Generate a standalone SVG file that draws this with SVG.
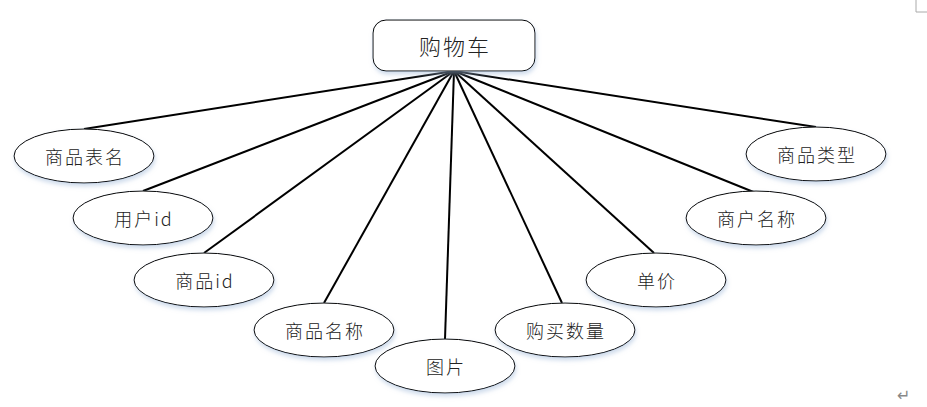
<svg xmlns="http://www.w3.org/2000/svg" width="927" height="407" viewBox="0 0 927 407">
<defs>
<filter id="sh" x="-20%" y="-20%" width="140%" height="150%"><feDropShadow dx="1" dy="3" stdDeviation="2" flood-color="#9fb8d8" flood-opacity="0.5"/></filter>
</defs>
<style>
.e{fill:#fff;stroke:#000;stroke-width:1;filter:url(#sh)}
.t{font-family:"Noto Sans CJK SC","Liberation Serif",serif;font-size:18px;font-weight:300;fill:#222;text-anchor:middle;dominant-baseline:central;letter-spacing:2px}
.l{stroke:#000;stroke-width:2;fill:none}
</style>
<rect width="927" height="407" fill="#fff"/>
<g id="connectors">
<line class="l" x1="454" y1="71" x2="84" y2="129"/>
<line class="l" x1="454" y1="71" x2="143" y2="191"/>
<line class="l" x1="454" y1="71" x2="204" y2="253"/>
<line class="l" x1="454" y1="71" x2="324" y2="303"/>
<line class="l" x1="454" y1="71" x2="445" y2="339"/>
<line class="l" x1="454" y1="71" x2="562" y2="303"/>
<line class="l" x1="454" y1="71" x2="654" y2="253"/>
<line class="l" x1="454" y1="71" x2="756" y2="193"/>
<line class="l" x1="454" y1="71" x2="816" y2="127"/>
</g>
<g id="cart"><rect x="373" y="20" width="162" height="51" rx="13" class="e"/><text class="t" x="455" y="45" style="font-size:22px">购物车</text></g>
<g id="n1"><ellipse class="e" cx="84" cy="156" rx="70" ry="27"/><text class="t" x="85" y="156">商品表名</text></g>
<g id="n2"><ellipse class="e" cx="143" cy="218" rx="70" ry="27"/><text class="t" x="144" y="218">用户id</text></g>
<g id="n3"><ellipse class="e" cx="204" cy="280" rx="70" ry="27"/><text class="t" x="205" y="280">商品id</text></g>
<g id="n4"><ellipse class="e" cx="324" cy="330" rx="70" ry="27"/><text class="t" x="325" y="330">商品名称</text></g>
<g id="n5"><ellipse class="e" cx="445" cy="366" rx="70" ry="27"/><text class="t" x="446" y="366">图片</text></g>
<g id="n6"><ellipse class="e" cx="565" cy="330" rx="70" ry="27"/><text class="t" x="566" y="330">购买数量</text></g>
<g id="n7"><ellipse class="e" cx="656" cy="280" rx="70" ry="27"/><text class="t" x="657" y="280">单价</text></g>
<g id="n8"><ellipse class="e" cx="756" cy="218" rx="70" ry="27"/><text class="t" x="757" y="218">商户名称</text></g>
<g id="n9"><ellipse class="e" cx="816" cy="154" rx="70" ry="27"/><text class="t" x="817" y="154">商品类型</text></g>
<path d="M916 0V12H927" stroke="#aaa" fill="none"/>
<text x="897" y="401" style="font-family:'DejaVu Sans',sans-serif;font-size:16px;fill:#888">↵</text>
</svg>
